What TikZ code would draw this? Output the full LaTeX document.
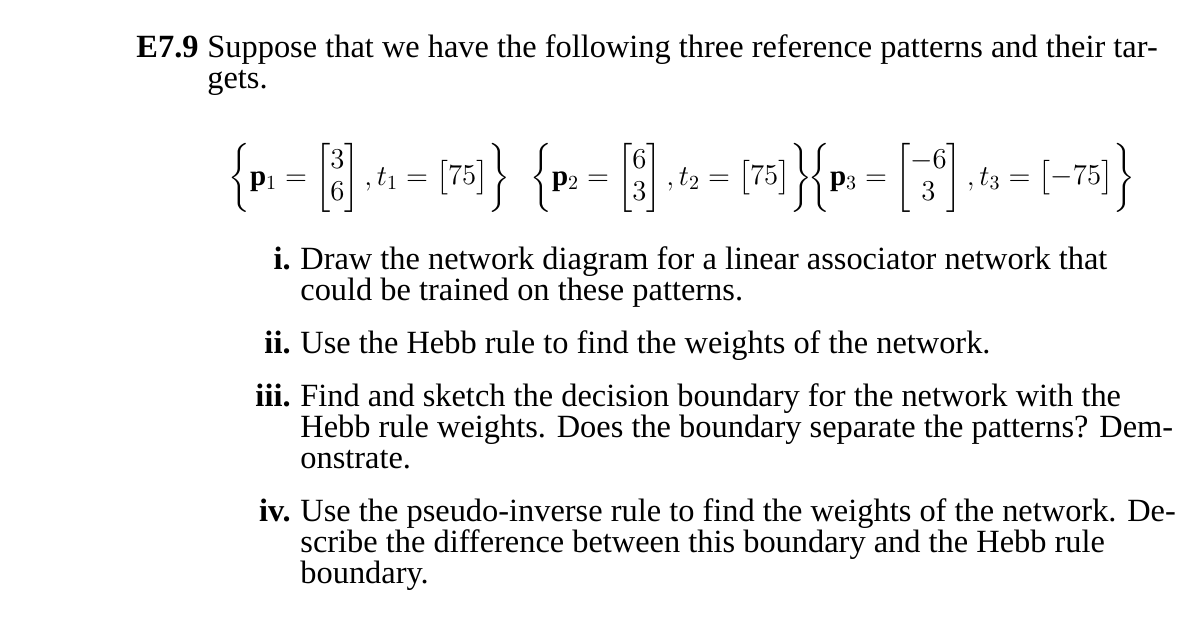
\documentclass[tikz,border=0pt]{standalone}
\usepackage{amsmath}
\usepackage{fontspec}
\setmainfont{Liberation Serif}
\begin{document}
\begin{tikzpicture}[x=0.5pt,y=-0.5pt,
  txt/.style={anchor=base west,inner sep=0pt,font=\fontsize{16.2}{18}\selectfont},
  lbl/.style={anchor=base east,inner sep=0pt,font=\fontsize{16.2}{18}\selectfont\bfseries},
  eq/.style={anchor=west,inner sep=0pt,font=\fontsize{14.5}{16}\selectfont}]
\useasboundingbox (0,0) rectangle (1200,627);
\node[lbl] (e) at (199,57) {E7.9};
\node[txt] (l1) at (207,57) {Suppose that we have the following three reference patterns and their tar-};
\node[txt] (l2) at (207,88) {gets.};
\node[eq] (q1) at (228,178) {$\left\{\mathbf{p}_1=\begin{bmatrix}3\\6\end{bmatrix}, t_1=\begin{bmatrix}75\end{bmatrix}\right\}$};
\node[eq] (q2) at (530,178) {$\left\{\mathbf{p}_2=\begin{bmatrix}6\\3\end{bmatrix}, t_2=\begin{bmatrix}75\end{bmatrix}\right\}$};
\node[eq] (q3) at (808,178) {$\left\{\mathbf{p}_3=\begin{bmatrix}-6\\3\end{bmatrix}, t_3=\begin{bmatrix}-75\end{bmatrix}\right\}$};
\node[lbl] (i1) at (291,269) {i.};
\node[txt] at (300,269) {Draw the network diagram for a linear associator network that};
\node[txt] at (300,300) {could be trained on these patterns.};
\node[lbl] (i2) at (291,353) {ii.};
\node[txt] at (300,353) {Use the Hebb rule to find the weights of the network.};
\node[lbl] (i3) at (291,406) {iii.};
\node[txt] at (300,406) {Find and sketch the decision boundary for the network with the};
\node[txt] at (300,437) {Hebb rule weights. Does the boundary separate the patterns? Dem-};
\node[txt] at (300,468) {onstrate.};
\node[lbl] (i4) at (291,521) {iv.};
\node[txt] at (300,521) {Use the pseudo-inverse rule to find the weights of the network. De-};
\node[txt] at (300,552) {scribe the difference between this boundary and the Hebb rule};
\node[txt] at (300,583) {boundary.};
\end{tikzpicture}
\end{document}
